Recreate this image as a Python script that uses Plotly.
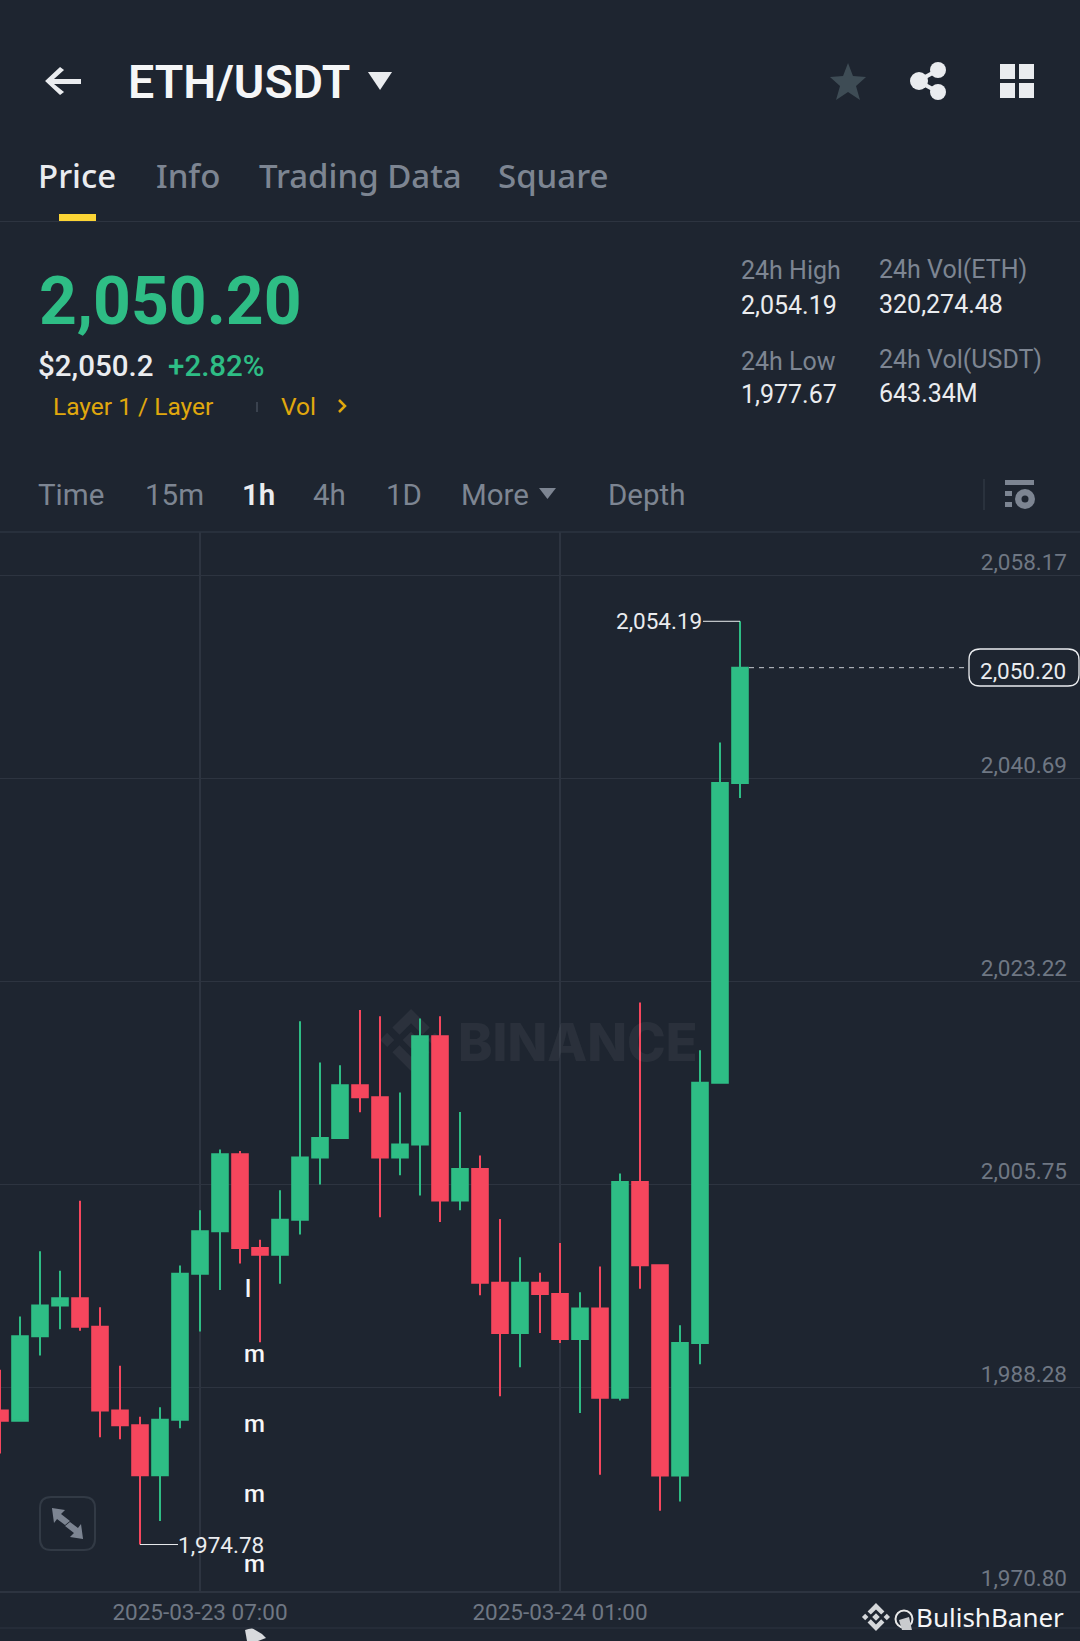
import pandas as pd
import plotly.graph_objects as go

W = 1080
H = 1641
BG = "#1E2530"
GRID = "#2D3440"
GREEN = "#2EBD85"
RED = "#F6465D"
GRAY = "#7D8592"
AXIS_GRAY = "#6F7783"
WHITE = "#EAECEF"
YELLOW = "#E0A80D"

#%% candles, 1h, first one is partly cut off by the left edge
times = pd.date_range("2025-03-22 21:00", periods=38, freq="h")
opens = [1986.30, 1985.43, 1992.69, 1995.33, 1995.97, 1993.51, 1986.30, 1985.03, 1980.74, 1985.52,
         1998.08, 2001.73, 2008.34, 2000.29, 1999.70, 2002.71, 2008.06, 2009.74, 2014.28, 2013.26,
         2008.06, 2009.19, 2018.50, 2004.37, 2007.07, 1997.30, 1992.98, 1997.30, 1996.32, 1992.45,
         1995.09, 1987.41, 2005.97, 1998.81, 1980.72, 1992.12, 2014.50, 2040.29]
closes = [1985.43, 1992.69, 1995.33, 1995.97, 1993.51, 1986.30, 1985.03, 1980.74, 1985.52, 1998.08,
          2001.73, 2008.34, 2000.29, 1999.70, 2002.71, 2008.06, 2009.74, 2014.28, 2013.26, 2008.06,
          2009.19, 2018.50, 2004.37, 2007.07, 1997.30, 1992.98, 1997.30, 1996.32, 1992.45, 1995.09,
          1987.41, 2005.97, 1998.81, 1980.72, 1992.12, 2014.50, 2040.29, 2050.20]
highs = [1989.81, 1994.39, 2000.01, 1998.32, 2004.34, 1995.19, 1990.16, 1985.77, 1986.58, 1998.78,
         2003.53, 2008.76, 2008.62, 2000.99, 2005.25, 2019.79, 2016.24, 2016.00, 2020.75, 2020.22,
         2013.67, 2020.03, 2020.22, 2011.99, 2008.24, 2002.77, 1999.49, 1998.16, 2000.71, 1996.48,
         1998.69, 2006.70, 2021.41, 1998.81, 1993.65, 2017.29, 2043.77, 2054.19]
lows = [1982.61, 1985.43, 1991.04, 1993.29, 1993.17, 1984.01, 1983.84, 1974.78, 1976.80, 1984.78,
        1993.11, 1996.67, 1998.95, 1992.17, 1997.21, 2001.45, 2005.74, 2009.74, 2011.96, 2002.92,
        2006.55, 2004.80, 2002.53, 2003.54, 1996.23, 1987.54, 1990.03, 1992.98, 1992.12, 1986.10,
        1980.78, 1987.17, 1996.79, 1977.68, 1978.48, 1990.28, 2014.50, 2038.98]

price_ticks = [2058.17, 2040.69, 2023.22, 2005.75, 1988.28, 1970.80]
time_ticks = ["2025-03-23 07:00", "2025-03-24 01:00"]
tabs = ["Price", "Info", "Trading Data", "Square"]
intervals = ["Time", "15m", "1h", "4h", "1D", "More", "Depth"]
stats = [("24h High", "2,054.19"), ("24h Low", "1,977.67"),
         ("24h Vol(ETH)", "320,274.48"), ("24h Vol(USDT)", "643.34M")]
last_price = 2050.20
day_high = 2054.19
period_low = 1974.78

fig = go.Figure()
fig.add_trace(go.Candlestick(
    x=times, open=opens, high=highs, low=lows, close=closes,
    increasing=dict(line=dict(color=GREEN, width=2), fillcolor=GREEN),
    decreasing=dict(line=dict(color=RED, width=2), fillcolor=RED),
    whiskerwidth=0, hoverinfo="skip", showlegend=False))


def px(x):
    return x / W


def py(y):
    return 1 - y / H


def note(text, x, y, size, color, weight=400, anchor="left", font="Roboto"):
    fig.add_annotation(text=text, x=px(x), y=py(y), xref="paper", yref="paper",
                       xanchor=anchor, yanchor="middle", showarrow=False,
                       font=dict(family=font, size=size, color=color, weight=weight))


def line(x0, y0, x1, y1, color, width=1):
    fig.add_shape(type="line", xref="paper", yref="paper", x0=px(x0), x1=px(x1), y0=py(y0), y1=py(y1),
                  line=dict(color=color, width=width))


def poly(points, color, layer="above"):
    d = "M " + " L ".join("%.4f,%.4f" % (px(a), py(b)) for a, b in points) + " Z"
    fig.add_shape(type="path", path=d, xref="paper", yref="paper", fillcolor=color,
                  line=dict(width=0), layer=layer)


def rect(x0, y0, x1, y1, color):
    fig.add_shape(type="rect", xref="paper", yref="paper", x0=px(x0), x1=px(x1), y0=py(y0), y1=py(y1),
                  fillcolor=color, line=dict(width=0))


def dot(cx, cy, r, color, outline=None):
    fig.add_shape(type="circle", xref="paper", yref="paper", x0=px(cx - r), x1=px(cx + r),
                  y0=py(cy - r), y1=py(cy + r), fillcolor=color if outline is None else "rgba(0,0,0,0)",
                  line=dict(width=0 if outline is None else 2, color=outline))


def round_box(x0, y0, x1, y1, r, color, width, fill="rgba(0,0,0,0)"):
    a, b, c, d = px(x0), px(x1), py(y0), py(y1)
    rx, ry = r / W, r / H
    path = (f"M {a + rx},{c} L {b - rx},{c} Q {b},{c} {b},{c - ry} L {b},{d + ry} Q {b},{d} {b - rx},{d} "
            f"L {a + rx},{d} Q {a},{d} {a},{d + ry} L {a},{c - ry} Q {a},{c} {a + rx},{c} Z")
    fig.add_shape(type="path", path=path, xref="paper", yref="paper", fillcolor=fill,
                  line=dict(color=color, width=width))


def logo(cx, cy, r, color, layer="above"):
    def part(pts):
        poly([(cx + a * r, cy + b * r) for a, b in pts], color, layer)
    for off in (-0.77, 0.77):
        part([(off - 0.23, 0), (off, -0.23), (off + 0.23, 0), (off, 0.23)])
    part([(-0.27, 0), (0, -0.27), (0.27, 0), (0, 0.27)])
    part([(-0.6, -0.4), (0, -1), (0.6, -0.4), (0.37, -0.17), (0, -0.54), (-0.37, -0.17)])
    part([(-0.6, 0.4), (0, 1), (0.6, 0.4), (0.37, 0.17), (0, 0.54), (-0.37, 0.17)])


#%% header
poly([(45, 81), (60, 67), (64, 70), (54, 79), (81, 79), (81, 84), (54, 84), (64, 92), (60, 95)], WHITE)
note("ETH/USDT", 126, 82, 46.5, "#F5F6F7", 600)
poly([(368, 72), (392, 72), (380, 90)], WHITE)
poly([(848, 63), (853, 76), (866, 77), (856, 86), (860, 100), (848, 92), (836, 100), (840, 86), (830, 77), (843, 76)], "#3E4C55")
line(918, 81, 938, 70, WHITE, 4)
line(918, 81, 938, 92, WHITE, 4)
dot(938, 70, 8, WHITE)
dot(919, 81, 9, WHITE)
dot(938, 92, 8, WHITE)
rect(1000, 64, 1015, 79, WHITE)
rect(1019, 64, 1034, 79, WHITE)
rect(1000, 83, 1015, 98, WHITE)
rect(1019, 83, 1034, 98, WHITE)

#%% tabs
for name, x in zip(tabs, [36, 154, 257, 496]):
    note(name, x, 176, 33, WHITE if name == "Price" else GRAY, 500, font="Noto Sans")
rect(59, 214, 96, 221, "#FCD535")
line(0, 221.5, W, 221.5, GRID, 1)

#%% ticker
note("2,050.20", 37, 301, 66, GREEN, 700)
note("$2,050.2", 36, 366, 29.5, WHITE, 500)
note("+2.82%", 166, 366, 29.5, GREEN, 500)
note("Layer 1 / Layer", 51, 407, 24.5, YELLOW)
line(257, 402, 257, 412, "#3A424E", 2)
note("Vol", 279, 407, 24.5, YELLOW)
fig.add_shape(type="path", xref="paper", yref="paper", line=dict(color=YELLOW, width=2.5),
              path=f"M {px(339)},{py(400)} L {px(345)},{py(406)} L {px(339)},{py(412)}")
for (label, value), x, y1, y2 in zip(stats, [739, 739, 877, 877], [271, 361, 269, 360], [305, 394, 304, 393]):
    note(label, x, y1, 25, GRAY)
    note(value, x, y2, 25, WHITE)

#%% interval row
for name, x in zip(intervals, [36, 143, 240, 311, 384, 459, 606]):
    note(name, x, 495, 29.5, WHITE if name == "1h" else GRAY, 600 if name == "1h" else 400)
poly([(539, 488), (556, 488), (547.5, 499)], GRAY)
line(984, 479, 984, 510, "#2F3742", 1.5)
rect(1005, 480, 1034, 485, GRAY)
rect(1005, 491, 1012, 496, GRAY)
rect(1005, 502, 1012, 507, GRAY)
dot(1025, 499, 10, GRAY)
dot(1025, 499, 3.5, BG)
line(0, 532, W, 532, GRID, 1.5)

#%% watermark, behind the candles as far as annotations allow
logo(411, 1040, 31, "#2B313C", layer="below")
note("BINANCE", 456, 1042, 52, "rgba(255,255,255,0.055)", 800, font="Inter")

#%% price callouts
fig.add_shape(type="line", xref="x", yref="y", xsizemode="pixel", xanchor=times[37], x0=-37, x1=0,
              y0=day_high, y1=day_high, line=dict(color=WHITE, width=1))
fig.add_annotation(x=times[37], y=day_high, xref="x", yref="y", xanchor="right", yanchor="middle",
                   xshift=-36, showarrow=False, text="2,054.19", font=dict(family="Roboto", size=22.5, color=WHITE))
fig.add_shape(type="line", xref="x", yref="y", xsizemode="pixel", xanchor=times[7], x0=0, x1=38,
              y0=period_low, y1=period_low, line=dict(color=WHITE, width=1))
fig.add_annotation(x=times[7], y=period_low, xref="x", yref="y", xanchor="left", yanchor="middle",
                   xshift=36, showarrow=False, text="1,974.78", font=dict(family="Roboto", size=22.5, color=WHITE))
fig.add_shape(type="line", xref="x", yref="y", xsizemode="pixel", xanchor=times[37], x0=9, x1=225,
              y0=last_price, y1=last_price, line=dict(color="#C8CCD2", width=1, dash="5px,5px"))
round_box(969, 649, 1079, 686, 11, WHITE, 1.3, fill=BG)
note("2,050.20", 1068, 671, 22.5, WHITE, anchor="right")

#%% stray glyphs over the chart
for text, x, y in [("l", 243, 1289), ("m", 242, 1354), ("m", 242, 1424), ("m", 242, 1494), ("m", 242, 1564)]:
    note(text, x, y, 24, "#F5F6F7", 500)
poly([(245, 1630), (252, 1628), (262, 1634), (266, 1638), (258, 1641), (247, 1641)], "#D8DADD")

#%% expand button
round_box(40, 1497, 95, 1550, 11, "#323A45", 2)
poly([(52, 1508), (65, 1510), (61, 1514), (70, 1521), (65, 1525), (57, 1519), (54, 1523)], GRAY)
poly([(83, 1539), (70, 1537), (74, 1533), (65, 1526), (70, 1522), (78, 1528), (81, 1524)], GRAY)

#%% footer
line(0, 1628, W, 1628, GRID, 1)
logo(876, 1617, 14, "#D5D7DA")
dot(904, 1619, 8.5, "rgba(0,0,0,0)", outline="#E8E8E8")
poly([(899, 1620), (909, 1617), (912, 1630), (902, 1630)], "#C9CBCE")
note("BulishBaner", 914, 1617, 26, "#F5F6F7", font="Noto Sans")

fig.update_layout(
    width=W, height=H, margin=dict(l=0, r=0, t=0, b=0), autosize=False,
    paper_bgcolor=BG, plot_bgcolor=BG, showlegend=False, boxgap=0.22, boxgroupgap=0,
    xaxis=dict(range=["2025-03-22 21:00", "2025-03-25 03:00"], rangeslider=dict(visible=False),
               tickvals=time_ticks, tickformat="%Y-%m-%d %H:%M", ticks="", showgrid=True, gridcolor=GRID,
               gridwidth=1.5, showline=True, linecolor=GRID, linewidth=2, zeroline=False,
               ticklabelstandoff=0, tickfont=dict(family="Roboto", size=22.5, color=AXIS_GRAY)),
    yaxis=dict(domain=[py(1590.8), py(532)], range=[1970.80, 2061.87], side="right",
               ticklabelposition="inside", tickvals=price_ticks, tickformat=",.2f", ticks="",
               showgrid=True, gridcolor=GRID, gridwidth=1, zeroline=False, showline=False,
               ticklabelshift=-13, ticklabelstandoff=10,
               tickfont=dict(family="Roboto", size=22.5, color=AXIS_GRAY)),
)

# page margin would push the figure off the right edge of the window
fig.write_html("out.html", config={"displayModeBar": False},
               post_script="document.body.style.margin='0';document.body.style.background='%s';" % BG)
